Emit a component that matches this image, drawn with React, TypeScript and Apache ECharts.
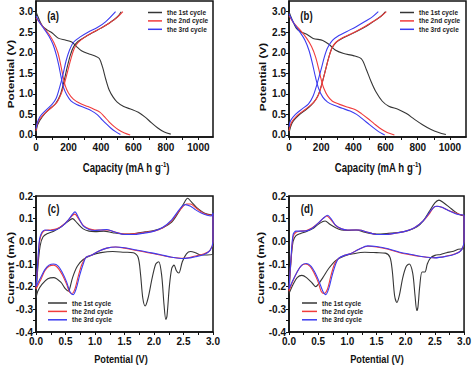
import React, { useEffect, useRef } from 'react';
import * as echarts from 'echarts';

const CYCLES = ['the 1st cycle', 'the 2nd cycle', 'the 3rd cycle'];
const COLORS = ['#363636', '#f03c3c', '#3c3cf0'];

// tick labels
const capLabels = [0, 200, 400, 600, 800, 1000];
const capTicks = [0, 100, 200, 300, 400, 500, 600, 700, 800, 900, 1000];
const potLabels = [0, 0.5, 1, 1.5, 2, 2.5, 3];
const potTicks = [0, 0.25, 0.5, 0.75, 1, 1.25, 1.5, 1.75, 2, 2.25, 2.5, 2.75, 3];
const curLabels = [-0.4, -0.3, -0.2, -0.1, 0, 0.1, 0.2];
const curTicks = [-0.4, -0.35, -0.3, -0.25, -0.2, -0.15, -0.1, -0.05, 0, 0.05, 0.1, 0.15, 0.2];

// (a) charge/discharge: [capacity, potential]
const aDis1 = [[0,3.0],[15,2.85],[40,2.65],[70,2.55],[100,2.48],[140,2.35],[180,2.31],[220,2.26],[250,2.15],[280,2.05],[320,1.98],[360,1.93],[390,1.86],[410,1.65],[430,1.35],[450,1.1],[475,0.92],[500,0.8],[540,0.69],[590,0.62],[630,0.55],[670,0.44],[710,0.3],[750,0.17],[790,0.07],[830,0.02]];
const aChg1 = [[0,0.05],[10,0.25],[40,0.45],[80,0.62],[120,0.76],[150,0.98],[172,1.3],[192,1.65],[212,1.95],[232,2.15],[260,2.28],[300,2.38],[350,2.49],[400,2.6],[450,2.72],[500,2.87],[525,3.0]];
const aDis2 = [[0,2.85],[20,2.75],[50,2.6],[80,2.45],[110,2.25],[135,2.0],[150,1.75],[165,1.45],[180,1.2],[200,1.02],[230,0.87],[270,0.77],[320,0.69],[360,0.62],[395,0.55],[420,0.45],[450,0.32],[480,0.21],[510,0.12],[545,0.05],[580,0.0]];
const aChg2 = [[0,0.1],[10,0.3],[30,0.42],[60,0.55],[100,0.68],[130,0.8],[155,1.0],[175,1.25],[195,1.55],[215,1.85],[235,2.1],[260,2.25],[300,2.38],[350,2.5],[400,2.6],[450,2.72],[500,2.86],[535,3.0]];
const aDis3 = [[0,2.9],[20,2.75],[50,2.58],[80,2.4],[105,2.2],[125,1.95],[140,1.7],[155,1.4],[170,1.15],[190,0.97],[215,0.83],[250,0.74],[300,0.66],[345,0.58],[375,0.5],[400,0.4],[430,0.28],[460,0.17],[490,0.08],[520,0.01]];
const aChg3 = [[0,0.15],[8,0.3],[25,0.45],[60,0.6],[100,0.75],[125,0.9],[145,1.15],[165,1.45],[185,1.8],[205,2.05],[230,2.25],[270,2.38],[320,2.5],[380,2.62],[430,2.76],[490,3.0]];

// (b) charge/discharge
const bDis1 = [[0,3.0],[20,2.8],[45,2.6],[70,2.52],[110,2.45],[150,2.35],[210,2.3],[250,2.2],[290,2.06],[340,1.98],[400,1.93],[450,1.85],[480,1.6],[510,1.3],[540,1.05],[580,0.82],[620,0.7],[680,0.62],[730,0.52],[780,0.38],[830,0.25],[880,0.14],[930,0.06],[975,0.01]];
const bChg1 = [[0,0.05],[20,0.3],[60,0.48],[110,0.63],[155,0.8],[185,1.0],[208,1.3],[228,1.6],[248,1.9],[268,2.12],[295,2.26],[335,2.36],[390,2.46],[440,2.56],[490,2.67],[540,2.8],[575,2.9],[600,3.0]];
const bDis2 = [[0,2.9],[30,2.72],[70,2.55],[110,2.35],[140,2.15],[165,1.9],[185,1.6],[200,1.35],[215,1.15],[240,0.95],[270,0.82],[310,0.75],[360,0.68],[410,0.62],[450,0.52],[490,0.4],[530,0.27],[570,0.15],[610,0.06],[655,0.0]];
const bChg2 = [[0,0.1],[15,0.3],[50,0.47],[100,0.62],[150,0.78],[180,0.95],[205,1.25],[225,1.55],[245,1.85],[265,2.1],[290,2.25],[330,2.36],[380,2.45],[430,2.55],[480,2.66],[530,2.78],[570,2.88],[605,3.0]];
const bDis3 = [[0,2.95],[30,2.72],[65,2.52],[100,2.3],[125,2.05],[145,1.75],[165,1.4],[185,1.12],[210,0.92],[240,0.8],[280,0.72],[330,0.65],[380,0.58],[420,0.5],[460,0.38],[500,0.25],[540,0.13],[570,0.05],[595,0.0]];
const bChg3 = [[0,0.2],[10,0.35],[40,0.5],[80,0.63],[120,0.75],[150,0.95],[175,1.25],[200,1.6],[220,1.9],[240,2.12],[270,2.3],[310,2.42],[360,2.52],[420,2.64],[480,2.78],[520,2.88],[555,3.0]];

// (c) cyclic voltammetry: [potential, current]
const cCv1 = [[0,-0.25],[0.03,-0.12],[0.07,-0.02],[0.12,0.02],[0.2,0.035],[0.3,0.045],[0.4,0.06],[0.5,0.08],[0.58,0.095],[0.62,0.1],[0.7,0.08],[0.8,0.055],[0.9,0.045],[1.0,0.043],[1.15,0.045],[1.3,0.038],[1.5,0.032],[1.7,0.036],[1.85,0.042],[2.0,0.048],[2.15,0.06],[2.3,0.085],[2.42,0.13],[2.5,0.165],[2.57,0.19],[2.63,0.175],[2.72,0.15],[2.82,0.13],[2.9,0.12],[3.0,0.115],[3.0,-0.055],[2.9,-0.06],[2.8,-0.06],[2.7,-0.05],[2.62,-0.045],[2.55,-0.055],[2.48,-0.09],[2.42,-0.14],[2.38,-0.13],[2.34,-0.105],[2.3,-0.12],[2.26,-0.2],[2.22,-0.33],[2.2,-0.345],[2.17,-0.28],[2.13,-0.15],[2.08,-0.09],[2.03,-0.1],[1.97,-0.16],[1.9,-0.25],[1.85,-0.285],[1.81,-0.25],[1.77,-0.14],[1.73,-0.07],[1.65,-0.05],[1.5,-0.048],[1.3,-0.045],[1.1,-0.05],[0.95,-0.06],[0.8,-0.08],[0.7,-0.11],[0.62,-0.16],[0.57,-0.21],[0.55,-0.22],[0.5,-0.21],[0.42,-0.18],[0.3,-0.16],[0.2,-0.165],[0.1,-0.19],[0.03,-0.22],[0,-0.25]];
const cCv2 = [[0,-0.21],[0.03,-0.1],[0.06,0.0],[0.1,0.035],[0.15,0.048],[0.25,0.05],[0.35,0.055],[0.45,0.07],[0.55,0.095],[0.62,0.115],[0.66,0.12],[0.72,0.1],[0.8,0.07],[0.9,0.055],[1.0,0.05],[1.1,0.05],[1.2,0.05],[1.35,0.04],[1.5,0.032],[1.65,0.033],[1.8,0.038],[2.0,0.045],[2.15,0.06],[2.3,0.09],[2.4,0.125],[2.48,0.15],[2.55,0.165],[2.62,0.165],[2.7,0.15],[2.8,0.13],[2.9,0.118],[2.97,0.115],[3.0,0.12],[3.0,0.0],[2.95,-0.04],[2.85,-0.055],[2.7,-0.065],[2.5,-0.075],[2.3,-0.07],[2.1,-0.06],[1.9,-0.05],[1.7,-0.04],[1.5,-0.03],[1.35,-0.025],[1.2,-0.03],[1.05,-0.045],[0.95,-0.06],[0.85,-0.07],[0.78,-0.1],[0.72,-0.15],[0.66,-0.21],[0.61,-0.23],[0.57,-0.225],[0.52,-0.19],[0.45,-0.15],[0.38,-0.12],[0.3,-0.105],[0.22,-0.11],[0.15,-0.13],[0.08,-0.17],[0,-0.21]];
const cCv3 = [[0,-0.2],[0.03,-0.09],[0.06,0.01],[0.1,0.04],[0.15,0.05],[0.25,0.048],[0.35,0.052],[0.45,0.068],[0.55,0.095],[0.62,0.12],[0.66,0.13],[0.72,0.105],[0.8,0.068],[0.9,0.052],[1.0,0.048],[1.1,0.05],[1.2,0.052],[1.35,0.04],[1.5,0.03],[1.65,0.03],[1.8,0.035],[2.0,0.045],[2.15,0.062],[2.3,0.095],[2.4,0.13],[2.48,0.155],[2.53,0.162],[2.62,0.155],[2.7,0.14],[2.8,0.125],[2.9,0.115],[2.97,0.112],[3.0,0.125],[3.0,0.0],[2.95,-0.04],[2.85,-0.058],[2.7,-0.068],[2.5,-0.076],[2.3,-0.07],[2.1,-0.058],[1.9,-0.048],[1.7,-0.038],[1.5,-0.028],[1.35,-0.025],[1.2,-0.03],[1.05,-0.045],[0.95,-0.06],[0.85,-0.07],[0.8,-0.1],[0.74,-0.15],[0.68,-0.21],[0.63,-0.235],[0.58,-0.225],[0.52,-0.18],[0.45,-0.14],[0.38,-0.11],[0.3,-0.1],[0.22,-0.105],[0.15,-0.125],[0.08,-0.16],[0,-0.2]];

// (d) cyclic voltammetry
const dCv1 = [[0,-0.23],[0.03,-0.1],[0.07,0.0],[0.12,0.025],[0.2,0.035],[0.3,0.043],[0.4,0.055],[0.5,0.075],[0.58,0.088],[0.62,0.09],[0.7,0.075],[0.8,0.06],[0.9,0.05],[1.0,0.048],[1.15,0.05],[1.3,0.04],[1.5,0.032],[1.7,0.035],[1.9,0.04],[2.05,0.048],[2.2,0.065],[2.3,0.09],[2.4,0.13],[2.5,0.17],[2.57,0.182],[2.65,0.17],[2.75,0.15],[2.85,0.13],[2.95,0.115],[3.0,0.11],[3.0,-0.03],[2.9,-0.035],[2.8,-0.045],[2.7,-0.05],[2.6,-0.058],[2.5,-0.062],[2.42,-0.075],[2.37,-0.1],[2.33,-0.135],[2.28,-0.135],[2.24,-0.2],[2.21,-0.29],[2.19,-0.305],[2.16,-0.24],[2.12,-0.14],[2.06,-0.1],[2.01,-0.11],[1.95,-0.16],[1.89,-0.24],[1.85,-0.27],[1.81,-0.24],[1.77,-0.13],[1.73,-0.07],[1.65,-0.052],[1.5,-0.05],[1.3,-0.048],[1.1,-0.055],[0.95,-0.065],[0.8,-0.085],[0.68,-0.12],[0.58,-0.16],[0.5,-0.19],[0.46,-0.2],[0.4,-0.185],[0.3,-0.16],[0.22,-0.15],[0.14,-0.16],[0.07,-0.19],[0,-0.23]];
const dCv2 = [[0,-0.22],[0.03,-0.1],[0.07,0.02],[0.12,0.04],[0.2,0.045],[0.3,0.048],[0.4,0.06],[0.5,0.08],[0.58,0.1],[0.65,0.112],[0.72,0.095],[0.8,0.07],[0.9,0.055],[1.0,0.05],[1.1,0.05],[1.2,0.05],[1.35,0.04],[1.5,0.03],[1.65,0.03],[1.8,0.035],[2.0,0.045],[2.15,0.06],[2.3,0.09],[2.4,0.12],[2.48,0.15],[2.55,0.155],[2.62,0.15],[2.7,0.14],[2.8,0.13],[2.9,0.12],[3.0,0.11],[3.0,0.0],[2.95,-0.04],[2.85,-0.055],[2.7,-0.065],[2.5,-0.072],[2.3,-0.068],[2.1,-0.06],[1.9,-0.05],[1.7,-0.035],[1.5,-0.025],[1.35,-0.022],[1.2,-0.035],[1.05,-0.055],[0.95,-0.062],[0.85,-0.075],[0.78,-0.1],[0.72,-0.15],[0.66,-0.21],[0.6,-0.23],[0.55,-0.22],[0.5,-0.18],[0.43,-0.14],[0.36,-0.11],[0.28,-0.1],[0.2,-0.11],[0.13,-0.14],[0.06,-0.18],[0,-0.22]];
const dCv3 = [[0,-0.21],[0.03,-0.09],[0.07,0.03],[0.12,0.045],[0.2,0.045],[0.3,0.046],[0.4,0.058],[0.5,0.08],[0.58,0.1],[0.66,0.115],[0.72,0.1],[0.8,0.07],[0.9,0.055],[1.0,0.05],[1.1,0.05],[1.2,0.05],[1.35,0.04],[1.5,0.03],[1.65,0.03],[1.8,0.035],[2.0,0.045],[2.15,0.06],[2.3,0.09],[2.4,0.125],[2.48,0.15],[2.53,0.155],[2.62,0.15],[2.7,0.14],[2.8,0.128],[2.9,0.118],[3.0,0.115],[3.0,0.0],[2.95,-0.04],[2.85,-0.056],[2.7,-0.066],[2.5,-0.073],[2.3,-0.068],[2.1,-0.058],[1.9,-0.048],[1.7,-0.033],[1.5,-0.023],[1.35,-0.02],[1.2,-0.035],[1.05,-0.055],[0.95,-0.062],[0.85,-0.075],[0.8,-0.1],[0.74,-0.15],[0.68,-0.21],[0.63,-0.235],[0.58,-0.22],[0.52,-0.18],[0.45,-0.14],[0.38,-0.11],[0.3,-0.098],[0.22,-0.105],[0.14,-0.135],[0.06,-0.175],[0,-0.21]];

const FONT = "'Liberation Sans', Arial, sans-serif";

export default function App() {
  const ref = useRef<HTMLDivElement>(null);
  useEffect(() => {
    if (!ref.current) return;
    const chart = echarts.init(ref.current, undefined, { renderer: 'svg' });

    const grids = [
      { left: 36, top: 1, width: 177, height: 136 },
      { left: 289, top: 1, width: 177, height: 136 },
      { left: 36, top: 196, width: 177, height: 136 },
      { left: 289, top: 196, width: 177, height: 136 },
    ].map((g) => ({ ...g, show: true, borderColor: '#111', borderWidth: 1.5, backgroundColor: 'transparent' }));

    const axisCommon = {
      type: 'value' as const,
      splitLine: { show: false },
      axisLine: { show: true, onZero: false, lineStyle: { color: '#111', width: 1.5 } },
    };
    const mkX = (gi: number, min: number, max: number, labels: number[], ticks: number[], fmt: (v: number) => string, margin: number) => ({
      ...axisCommon,
      gridIndex: gi, min, max,
      axisTick: { show: true, inside: false, length: 3, customValues: ticks, lineStyle: { color: '#111', width: 1 } },
      axisLabel: { customValues: labels, formatter: fmt, fontSize: 10, fontWeight: 'bold', color: '#111', fontFamily: FONT, margin },
    });
    const mkY = (gi: number, min: number, max: number, labels: number[], ticks: number[], fmt: (v: number) => string) => ({
      ...axisCommon,
      gridIndex: gi, min, max,
      axisTick: { show: true, inside: false, length: 3, customValues: ticks, lineStyle: { color: '#111', width: 1 } },
      axisLabel: { customValues: labels, formatter: fmt, fontSize: 10, fontWeight: 'bold', color: '#111', fontFamily: FONT, margin: 3 },
    });
    const f0 = (v: number) => String(Math.round(v));
    const f1 = (v: number) => (Math.abs(v) < 1e-9 ? 0 : v).toFixed(1);

    const xAxis = [
      mkX(0, 0, 1090, capLabels, capTicks, f0, 5),
      mkX(1, 0, 1100, capLabels, capTicks, f0, 5),
      mkX(2, 0, 3, potLabels, potTicks, f1, 4),
      mkX(3, 0, 3, potLabels, potTicks, f1, 4),
    ];
    const yAxis = [
      mkY(0, -0.05, 3.26, potLabels, potTicks, f1),
      mkY(1, -0.05, 3.26, potLabels, potTicks, f1),
      mkY(2, -0.4, 0.2, curLabels, curTicks, f1),
      mkY(3, -0.4, 0.2, curLabels, curTicks, f1),
    ];

    const panels: number[][][][][] = [
      [[aDis1, aChg1], [aDis2, aChg2], [aDis3, aChg3]],
      [[bDis1, bChg1], [bDis2, bChg2], [bDis3, bChg3]],
      [[cCv1], [cCv2], [cCv3]],
      [[dCv1], [dCv2], [dCv3]],
    ];
    const series: any[] = [];
    panels.forEach((cycles, gi) => {
      cycles.forEach((curves, ci) => {
        curves.forEach((data) => {
          series.push({
            type: 'line', name: CYCLES[ci], xAxisIndex: gi, yAxisIndex: gi,
            data, symbol: 'none', showSymbol: false, smooth: 0.3,
            lineStyle: { color: COLORS[ci], width: 1.1 },
            itemStyle: { color: COLORS[ci] },
            z: 2 + ci,
          });
        });
      });
    });

    const mkLegend = (left: number, top: number, w: number) => ({
      data: CYCLES, orient: 'vertical' as const, left, top, padding: 0, itemGap: 0.4,
      itemWidth: w, itemHeight: 1.5, icon: 'rect', itemTextGap: 4, selectedMode: false,
      textStyle: { fontSize: 6.5, fontWeight: 'bold', color: '#222', fontFamily: FONT, lineHeight: 8 },
    });
    const legend = [
      mkLegend(148, 8.5, 14),
      mkLegend(400, 8.5, 14),
      mkLegend(48, 299, 19),
      mkLegend(302, 299, 15),
    ];

    const txt = (text: string, x: number, y: number, size: number, rot = 0, sx = 1, sy = 1, rich?: any) => ({
      type: 'text', x, y, rotation: rot, scaleX: sx, scaleY: sy, silent: true,
      style: { text, fontSize: size, fontWeight: 'bold', fontFamily: FONT, fill: '#111', align: 'center', verticalAlign: 'middle', rich },
    });
    const supRich = {
      sup: { fontSize: 6, fontWeight: 'bold', fontFamily: FONT, fill: '#111', verticalAlign: 'top', padding: [0, 0, 6, 0] },
    };
    const graphic = [
      txt('Potential (V)', 10, 74, 9.4, Math.PI / 2, 1.25, 1),
      txt('Potential (V)', 262, 77, 9.4, Math.PI / 2, 1.25, 1),
      txt('Current (mA)', 10.5, 268, 9.4, Math.PI / 2, 1.25, 1),
      txt('Current (mA)', 260, 268, 9.4, Math.PI / 2, 1.25, 1),
      txt('Capacity (mA h g{sup|-1})', 126, 168, 9.6, 0, 1, 1.25, supRich),
      txt('Capacity (mA h g{sup|-1})', 378, 168, 9.6, 0, 1, 1.25, supRich),
      txt('Potential (V)', 121, 359, 9.2, 0, 1, 1.25),
      txt('Potential (V)', 377, 359, 9.2, 0, 1, 1.25),
      txt('(a)', 53, 15.5, 9.6, 0, 1, 1.25),
      txt('(b)', 306.5, 15.5, 9.6, 0, 1, 1.25),
      txt('(c)', 53.5, 209, 9.6, 0, 1, 1.25),
      txt('(d)', 307, 209, 9.6, 0, 1, 1.25),
    ];

    chart.setOption({
      animation: false,
      backgroundColor: '#fff',
      textStyle: { fontFamily: FONT },
      grid: grids,
      xAxis, yAxis, series, legend, graphic,
    });
    return () => chart.dispose();
  }, []);
  return <div ref={ref} style={{ position: 'fixed', left: 0, top: 0, width: 474, height: 367 }} />;
}
